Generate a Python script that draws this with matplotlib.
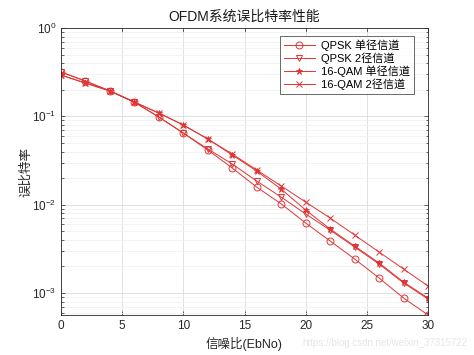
import numpy as np
import matplotlib
matplotlib.use('Agg')
import matplotlib.pyplot as plt
from matplotlib.ticker import LogLocator, NullFormatter

plt.rcParams['font.family'] = ['Liberation Sans', 'Noto Sans CJK SC', 'DejaVu Sans']
plt.rcParams['axes.unicode_minus'] = False

# === data ===
ebno = [0, 2, 4, 6, 8, 10, 12, 14, 16, 18, 20, 22, 24, 26, 28, 30]
ber_qpsk_1 = [0.318, 0.251, 0.194, 0.145, 0.0982, 0.0647, 0.0416, 0.0260, 0.0158, 0.0102,
              0.00620, 0.00388, 0.00243, 0.00148, 0.000877, 0.000564]
ber_qpsk_2 = [0.318, 0.251, 0.194, 0.145, 0.0982, 0.0647, 0.0427, 0.0289, 0.0185, 0.0122,
              0.00784, 0.00516, 0.00332, 0.00213, 0.00130, 0.000855]
ber_16qam_1 = [0.294, 0.238, 0.194, 0.145, 0.109, 0.0798, 0.0554, 0.0365, 0.0240, 0.0150,
               0.0087, 0.00530, 0.00340, 0.00219, 0.00133, 0.000877]
ber_16qam_2 = [0.294, 0.238, 0.194, 0.145, 0.109, 0.0798, 0.0554, 0.0375, 0.0247, 0.0163,
               0.0107, 0.00706, 0.00454, 0.00291, 0.00187, 0.00120]
labels = ['QPSK 单径信道', 'QPSK 2径信道', '16-QAM 单径信道', '16-QAM 2径信道']
xticks = [0, 5, 10, 15, 20, 25, 30]

red = '#e03434'

fig = plt.figure(figsize=(4.74, 3.55), dpi=100)
ax = fig.add_axes([0.1287, 0.1127, 0.903 - 0.1287, 0.921 - 0.1127])

ax.semilogy(ebno, ber_qpsk_1, '-o', color=red, mfc='none', ms=5, lw=0.7, mew=0.7, label=labels[0])
ax.semilogy(ebno, ber_qpsk_2, '-v', color=red, mfc='none', ms=5, lw=0.7, mew=0.7, label=labels[1])
ax.semilogy(ebno, ber_16qam_1, '-*', color=red, ms=4.5, lw=0.7, mew=0.6, label=labels[2])
ax.semilogy(ebno, ber_16qam_2, '-x', color=red, ms=4.5, lw=0.7, mew=0.7, label=labels[3])

ax.set_xlim(0, 30)
ax.set_ylim(min(ber_qpsk_1), 1)
ax.set_xticks(xticks)
ax.yaxis.set_major_locator(LogLocator(base=10, numticks=10))
ax.yaxis.set_minor_locator(LogLocator(base=10, subs=np.arange(2, 10), numticks=20))
ax.yaxis.set_minor_formatter(NullFormatter())

ax.grid(True, which='major', color='#dcdcdc', lw=0.6)
ax.grid(True, which='minor', axis='y', color='#efefef', lw=0.5)
ax.set_axisbelow(True)
for s in ax.spines.values():
	s.set_color('#262626')
	s.set_linewidth(0.6)
ax.tick_params(which='both', direction='in', top=True, right=True, colors='#262626',
			   labelsize=8.5, width=0.5)
ax.tick_params(which='major', length=3)
ax.tick_params(which='minor', length=1.8)

ax.set_title('OFDM系统误比特率性能', fontsize=10, pad=5, color='#1a1a1a')
ax.set_xlabel('信噪比(EbNo)', fontsize=9, labelpad=4, color='#262626')
ax.set_ylabel('误比特率', fontsize=9, labelpad=0, color='#262626')

leg = ax.legend(loc='upper right', bbox_to_anchor=(0.97, 0.985), fontsize=8, frameon=True,
				fancybox=False, edgecolor='#262626', handlelength=2.8, handletextpad=0.6,
				borderpad=0.3, labelspacing=0.15, borderaxespad=0.3)
leg.get_frame().set_linewidth(0.6)

fig.text(0.985, 0.02, 'https://blog.csdn.net/weixin_37315722', ha='right', va='bottom',
		 fontsize=7, color='#e6e6e6')

fig.savefig('out.png', dpi=100)
